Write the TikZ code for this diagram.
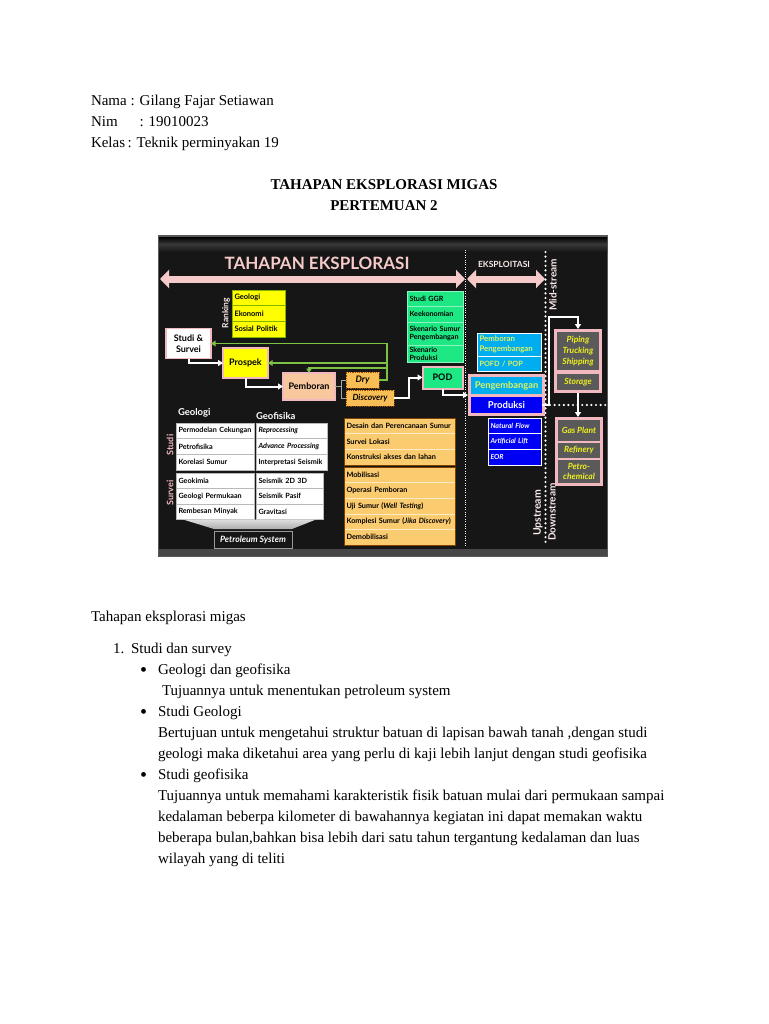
\documentclass[tikz,border=0pt]{standalone}
\usepackage{fontspec}
\setmainfont{Liberation Serif}
\newfontfamily\dg{Lato}
\usetikzlibrary{arrows.meta}
\definecolor{pinkT}{HTML}{F7CACA}
\definecolor{pinkB}{HTML}{F2B8BF}
\definecolor{grnL}{HTML}{7DC243}
\definecolor{yelB}{HTML}{FFFF00}
\definecolor{grnB}{HTML}{1EE884}
\definecolor{cyaB}{HTML}{00AEEF}
\definecolor{bluB}{HTML}{0000F5}
\definecolor{orB}{HTML}{FBCB70}
\definecolor{peach}{HTML}{F9C79E}
\definecolor{dryB}{HTML}{F7BE55}
\definecolor{grayB}{HTML}{5A5A5A}
\definecolor{yelT}{HTML}{F0F020}
\definecolor{cyaT}{HTML}{E4F25A}
\definecolor{bgD}{HTML}{161616}
\newcommand\myfs[1]{\fontsize{#1}{#1}\selectfont}
\newcommand\myfsl[2]{\fontsize{#1}{#2}\selectfont}
% name, x, y, width, row height, text width, style, rows
\newcommand\rows[8]{%
  \foreach \tx [count=\i] in {#8}{%
    \node[cell, #7, minimum width=#4, minimum height=#5, text width=#6]
      (#1-\i) at (#2, {#3+(\i-1)*#5}) {\tx};
  }}
\begin{document}
\begin{tikzpicture}[x=1pt,y=-1pt,
  every node/.style={inner sep=0pt, outer sep=0pt},
  doc/.style={anchor=base west, font=\myfsl{15}{18}},
  bul/.style={anchor=base west, font=\myfsl{20}{20}},
  docb/.style={anchor=base, font=\bfseries\myfsl{15}{18}},
  cell/.style={anchor=north west, align=left, inner xsep=2.5pt, font=\dg\bfseries\myfsl{7.2}{8}},
  wbox/.style={draw=pinkB, line width=1.6pt, text=black, font=\dg\bfseries\myfsl{9}{11}, align=center},
  wht/.style={draw=white, line width=2pt, -{Triangle[length=5pt,width=6pt]}},
  grn/.style={draw=grnL, line width=1.8pt, -{Triangle[length=4.5pt,width=5.5pt]}},
  pinkarr/.style={draw=pinkT, line width=7pt, {Triangle[length=9pt,width=18pt]}-{Triangle[length=9pt,width=18pt]}},
  grpbox/.style={fill=grayB, anchor=north west, text=yelT, align=center, font=\dg\bfseries\itshape\myfsl{8.5}{11}}
]
\useasboundingbox (0,0) rectangle (768,1024);
\fill[white] (0,0) rectangle (768,1024);

% ---------- document text ----------
\node[doc] (nama) at (91,106) {Nama : Gilang Fajar Setiawan};
\node[doc] (nim) at (91,127) {Nim};
\node[doc] (nimv) at (139.5,127) {: 19010023};
\node[doc] (kelas) at (91,148) {Kelas};
\node[doc] (kelasv) at (127.5,148) {: Teknik perminyakan 19};
\node[docb] (judul) at (384,190) {TAHAPAN EKSPLORASI MIGAS};
\node[docb] (pert) at (384,211) {PERTEMUAN 2};

\node[doc] (t0) at (91,621) {Tahapan eksplorasi migas};
\node[doc] (n1) at (113,653) {1.};
\node[doc] (t1) at (131,653) {Studi dan survey};
\node[bul] (b1) at (140,676) {•};
\node[doc] (t2) at (158,674) {Geologi dan geofisika};
\node[doc] (t3) at (162,695) {Tujuannya untuk menentukan petroleum system};
\node[bul] (b2) at (140,718) {•};
\node[doc] (t4) at (158,716) {Studi Geologi};
\node[doc] (t5) at (158,737) {Bertujuan untuk mengetahui struktur batuan di lapisan bawah tanah ,dengan studi};
\node[doc] (t6) at (158,758) {geologi maka diketahui area yang perlu di kaji lebih lanjut dengan studi geofisika};
\node[bul] (b3) at (140,781) {•};
\node[doc] (t7) at (158,779) {Studi geofisika};
\node[doc] (t8) at (158,800) {Tujuannya untuk memahami karakteristik fisik batuan mulai dari permukaan sampai};
\node[doc] (t9) at (158,821) {kedalaman beberpa kilometer di bawahannya kegiatan ini dapat memakan waktu};
\node[doc] (t10) at (158,842) {beberapa bulan,bahkan bisa lebih dari satu tahun tergantung kedalaman dan luas};
\node[doc] (t11) at (158,863) {wilayah yang di teliti};

% ---------- diagram frame ----------
\fill[black!65] (158,235) rectangle (608,557);
\fill[bgD] (159,237) rectangle (607,549);
\shade[top color=black, bottom color=black!78] (159,237) rectangle (607,244);
\shade[top color=black!78, bottom color=bgD] (159,244) rectangle (607,252);
\fill[black!72] (159,549) rectangle (607,556);

% title and arrows
\node[font=\dg\bfseries\myfs{17}, text=pinkT] (title) at (317,263) {TAHAPAN EKSPLORASI};
\coordinate (aL) at (160,279);
\coordinate (aM) at (465,279);
\coordinate (bL) at (467,279);
\coordinate (bR) at (545,279);
\draw[pinkarr] (aL) -- (aM);
\draw[pinkarr] (bL) -- (bR);
\node[font=\dg\bfseries\myfs{8.5}, text=pinkT!40!white] (eksp) at (504,264) {EKSPLOITASI};

% dotted separators
\draw[white, line width=0.7pt, dash pattern=on 0.8pt off 1.6pt] (465,250) -- (465,547);
\draw[white, line width=2.4pt, line cap=round, dash pattern=on 0pt off 4.6pt] (545.5,252) -- (545.5,542);
\draw[white, line width=2.4pt, line cap=round, dash pattern=on 0pt off 4.6pt] (550,405) -- (606,405);
\node[rotate=90, font=\dg\bfseries\myfs{10}, text=pinkT!40!white] (mid) at (553,285) {Mid-stream};
\node[rotate=90, font=\dg\bfseries\myfs{10.5}, text=pinkT!40!white] (up) at (538,513) {Upstream};
\node[rotate=90, font=\dg\bfseries\myfs{10}, text=pinkT!40!white] (down) at (552,512) {Downstream};

% ranking
\node[rotate=90, font=\dg\bfseries\myfs{8.5}, text=pinkT!40!white] (rank) at (226,313) {Ranking};
\rows{rk}{232}{290}{53}{15.67}{48pt}{fill=yelB, draw=yelB!75!green!70!black, font=\dg\bfseries\myfs{7.5}}{Geologi, Ekonomi, Sosial Politik}

% main flow boxes
\node[wbox, fill=white, minimum width=45, minimum height=30] (studi) at (188.5,343.5) {Studi \&\\Survei};
\node[wbox, fill=yelB, minimum width=45, minimum height=30] (prospek) at (245.5,363) {Prospek};
\node[wbox, fill=peach, minimum width=52, minimum height=27] (pemb) at (309,386.5) {Pemboran};
\node[fill=dryB, draw=orange!60!black, densely dotted, line width=0.8pt, minimum width=33, minimum height=16, font=\dg\bfseries\itshape\myfs{9}] (dry) at (362.5,380) {Dry};
\node[fill=dryB, draw=orange!60!black, densely dotted, line width=0.8pt, minimum width=48, minimum height=16, font=\dg\bfseries\itshape\myfs{8.5}] (disc) at (370,398) {Discovery};

% green table
\node[cell, fill=grnB, draw=grnB!50!white, minimum width=56, minimum height=15, text width=51pt] (gg1) at (407,291) {Studi GGR};
\node[cell, fill=grnB, draw=grnB!50!white, minimum width=56, minimum height=16, text width=51pt] (gg2) at (407,306) {Keekonomian};
\node[cell, fill=grnB, draw=grnB!50!white, minimum width=56, minimum height=23, text width=51pt] (gg3) at (407,322) {Skenario Sumur\\Pengembangan};
\node[cell, fill=grnB, draw=grnB!50!white, minimum width=56, minimum height=17, text width=51pt] (gg4) at (407,345) {Skenario\\Produksi};
\node[wbox, fill=grnB, line width=2pt, minimum width=40, minimum height=22] (pod) at (442.5,377.5) {POD};

% cyan table
\node[cell, fill=cyaB, draw=white, text=cyaT, minimum width=64, minimum height=23, text width=59pt, font=\dg\bfseries\myfsl{7.8}{10}] (cy1) at (477,333) {Pemboran\\Pengembangan};
\node[cell, fill=cyaB, draw=white, text=cyaT, minimum width=64, minimum height=15, text width=59pt, font=\dg\bfseries\myfs{7.3}] (cy2) at (477,356) {POFD / POP};

% pengembangan / produksi group
\node[fill=pinkB, minimum width=77, minimum height=42, anchor=north west] (pframe) at (468,374) {};
\node[fill=cyaB, minimum width=71, minimum height=17, anchor=north west, text=cyaT, font=\dg\bfseries\myfs{9.3}] (peng) at (471,377) {Pengembangan};
\node[fill=bluB, minimum width=71, minimum height=16, anchor=north west, text=white, font=\dg\bfseries\myfs{9.5}] (prod) at (471,397) {Produksi};
\rows{nf}{488}{418}{53}{15.67}{48pt}{fill=bluB, draw=white, text=white, font=\dg\bfseries\itshape\myfs{7}}{Natural Flow, Artificial Lift, EOR}

% downstream groups
\node[fill=pinkB, minimum width=48, minimum height=64, anchor=north west] (pgrp) at (554,329) {};
\node[grpbox, minimum width=42, minimum height=38] (pipe) at (557,332) {Piping\\Trucking\\Shipping};
\node[grpbox, minimum width=42, minimum height=16] (stor) at (557,374) {Storage};
\node[fill=pinkB, minimum width=48, minimum height=69, anchor=north west] (ggrp) at (555,417) {};
\node[grpbox, minimum width=42, minimum height=21] (gas) at (558,420) {Gas Plant};
\node[grpbox, minimum width=42, minimum height=15] (ref) at (558,443) {Refinery};
\node[grpbox, minimum width=42, minimum height=23, font=\dg\bfseries\itshape\myfsl{8.5}{10}] (petro) at (558,460) {Petro-\\chemical};

% bracket
\draw[gray!70, line width=0.8pt] (pemb.east) -- ++(6,0) coordinate (brk);
\draw[gray!70, line width=0.8pt] (dry.west) -- ++(-5,0) |- (disc.west);

% green feedback
\coordinate (gA) at (387,343.5);
\coordinate (gB) at (387,363);
\coordinate (gC) at (387,368);
\draw[grn] (dry.east) -| (gA) -- (studi.east);
\draw[grn] (gB) -- (prospek.east);
\draw[grn] (gC) -| (pemb.north);

% white arrows
\draw[wht] (studi.south) |- (prospek.west);
\draw[wht] (prospek.south) |- (pemb.west);
\coordinate (w1) at (409,398);
\draw[wht] (disc.east) -- (w1) |- (pod.west);
\draw[wht] (pod.south) |- (pframe.west);
\coordinate (w3) at (548.5,317);
\draw[wht] (prod.east) -| (w3) -| (pgrp.north);
\draw[wht] (pgrp.south) -- (pgrp.south |- ggrp.north);

% lower left studi / survei tables
\node[font=\dg\bfseries\myfs{9.5}, text=white, anchor=west] (hgeo) at (178,413) {Geologi};
\node[font=\dg\bfseries\myfs{9.5}, text=white, anchor=west] (hgf) at (256,415.5) {Geofisika};
\node[rotate=90, font=\dg\bfseries\myfs{9}, text=pinkB] (lstudi) at (170,445) {Studi};
\node[rotate=90, font=\dg\bfseries\myfs{9}, text=pinkB] (lsurv) at (170,493) {Survei};
\rows{sg}{176}{423}{78}{15.67}{73pt}{fill=white, draw=gray!55}{Permodelan Cekungan, Petrofisika, Korelasi Sumur}
\rows{sf}{256}{423}{71}{15.67}{66pt}{fill=white, draw=gray!55}{\textit{Reprocessing}, \textit{Advance Processing}, Interpretasi Seismik}
\rows{vg}{176}{473}{78}{15.5}{73pt}{fill=white, draw=gray!55}{Geokimia, Geologi Permukaan, Rembesan Minyak}
\rows{vf}{256}{473}{67}{15.5}{62pt}{fill=white, draw=gray!55}{Seismik 2D 3D, Seismik Pasif, Gravitasi}
\shade[top color=gray!25, bottom color=gray!65] (183,519.5) -- (316,519.5) -- (292,529) -- (214,529) -- cycle;
\node[fill=bgD, draw=gray!80, line width=0.8pt, minimum width=78, minimum height=17, text=white, font=\dg\bfseries\itshape\myfs{8.7}] (psys) at (253,539.5) {Petroleum System};

% orange tables
\rows{oa}{344}{418}{111}{15.67}{106pt}{fill=orB, draw=orB!40!white, font=\dg\bfseries\myfs{7.3}}{Desain dan Perencanaan Sumur, Survei Lokasi, Konstruksi akses dan lahan}
\rows{ob}{344}{467}{111}{15.6}{106pt}{fill=orB, draw=orB!40!white, font=\dg\bfseries\myfs{7.3}}{Mobilisasi, Operasi Pemboran, Uji Sumur (\textit{Well Testing}), Komplesi Sumur (\textit{Jika Discovery}), Demobilisasi}
\draw[orange!50!black, line width=0.5pt] (oa-1.north west) rectangle (oa-3.south east);
\draw[orange!50!black, line width=0.5pt] (ob-1.north west) rectangle (ob-5.south east);
\end{tikzpicture}
\end{document}
